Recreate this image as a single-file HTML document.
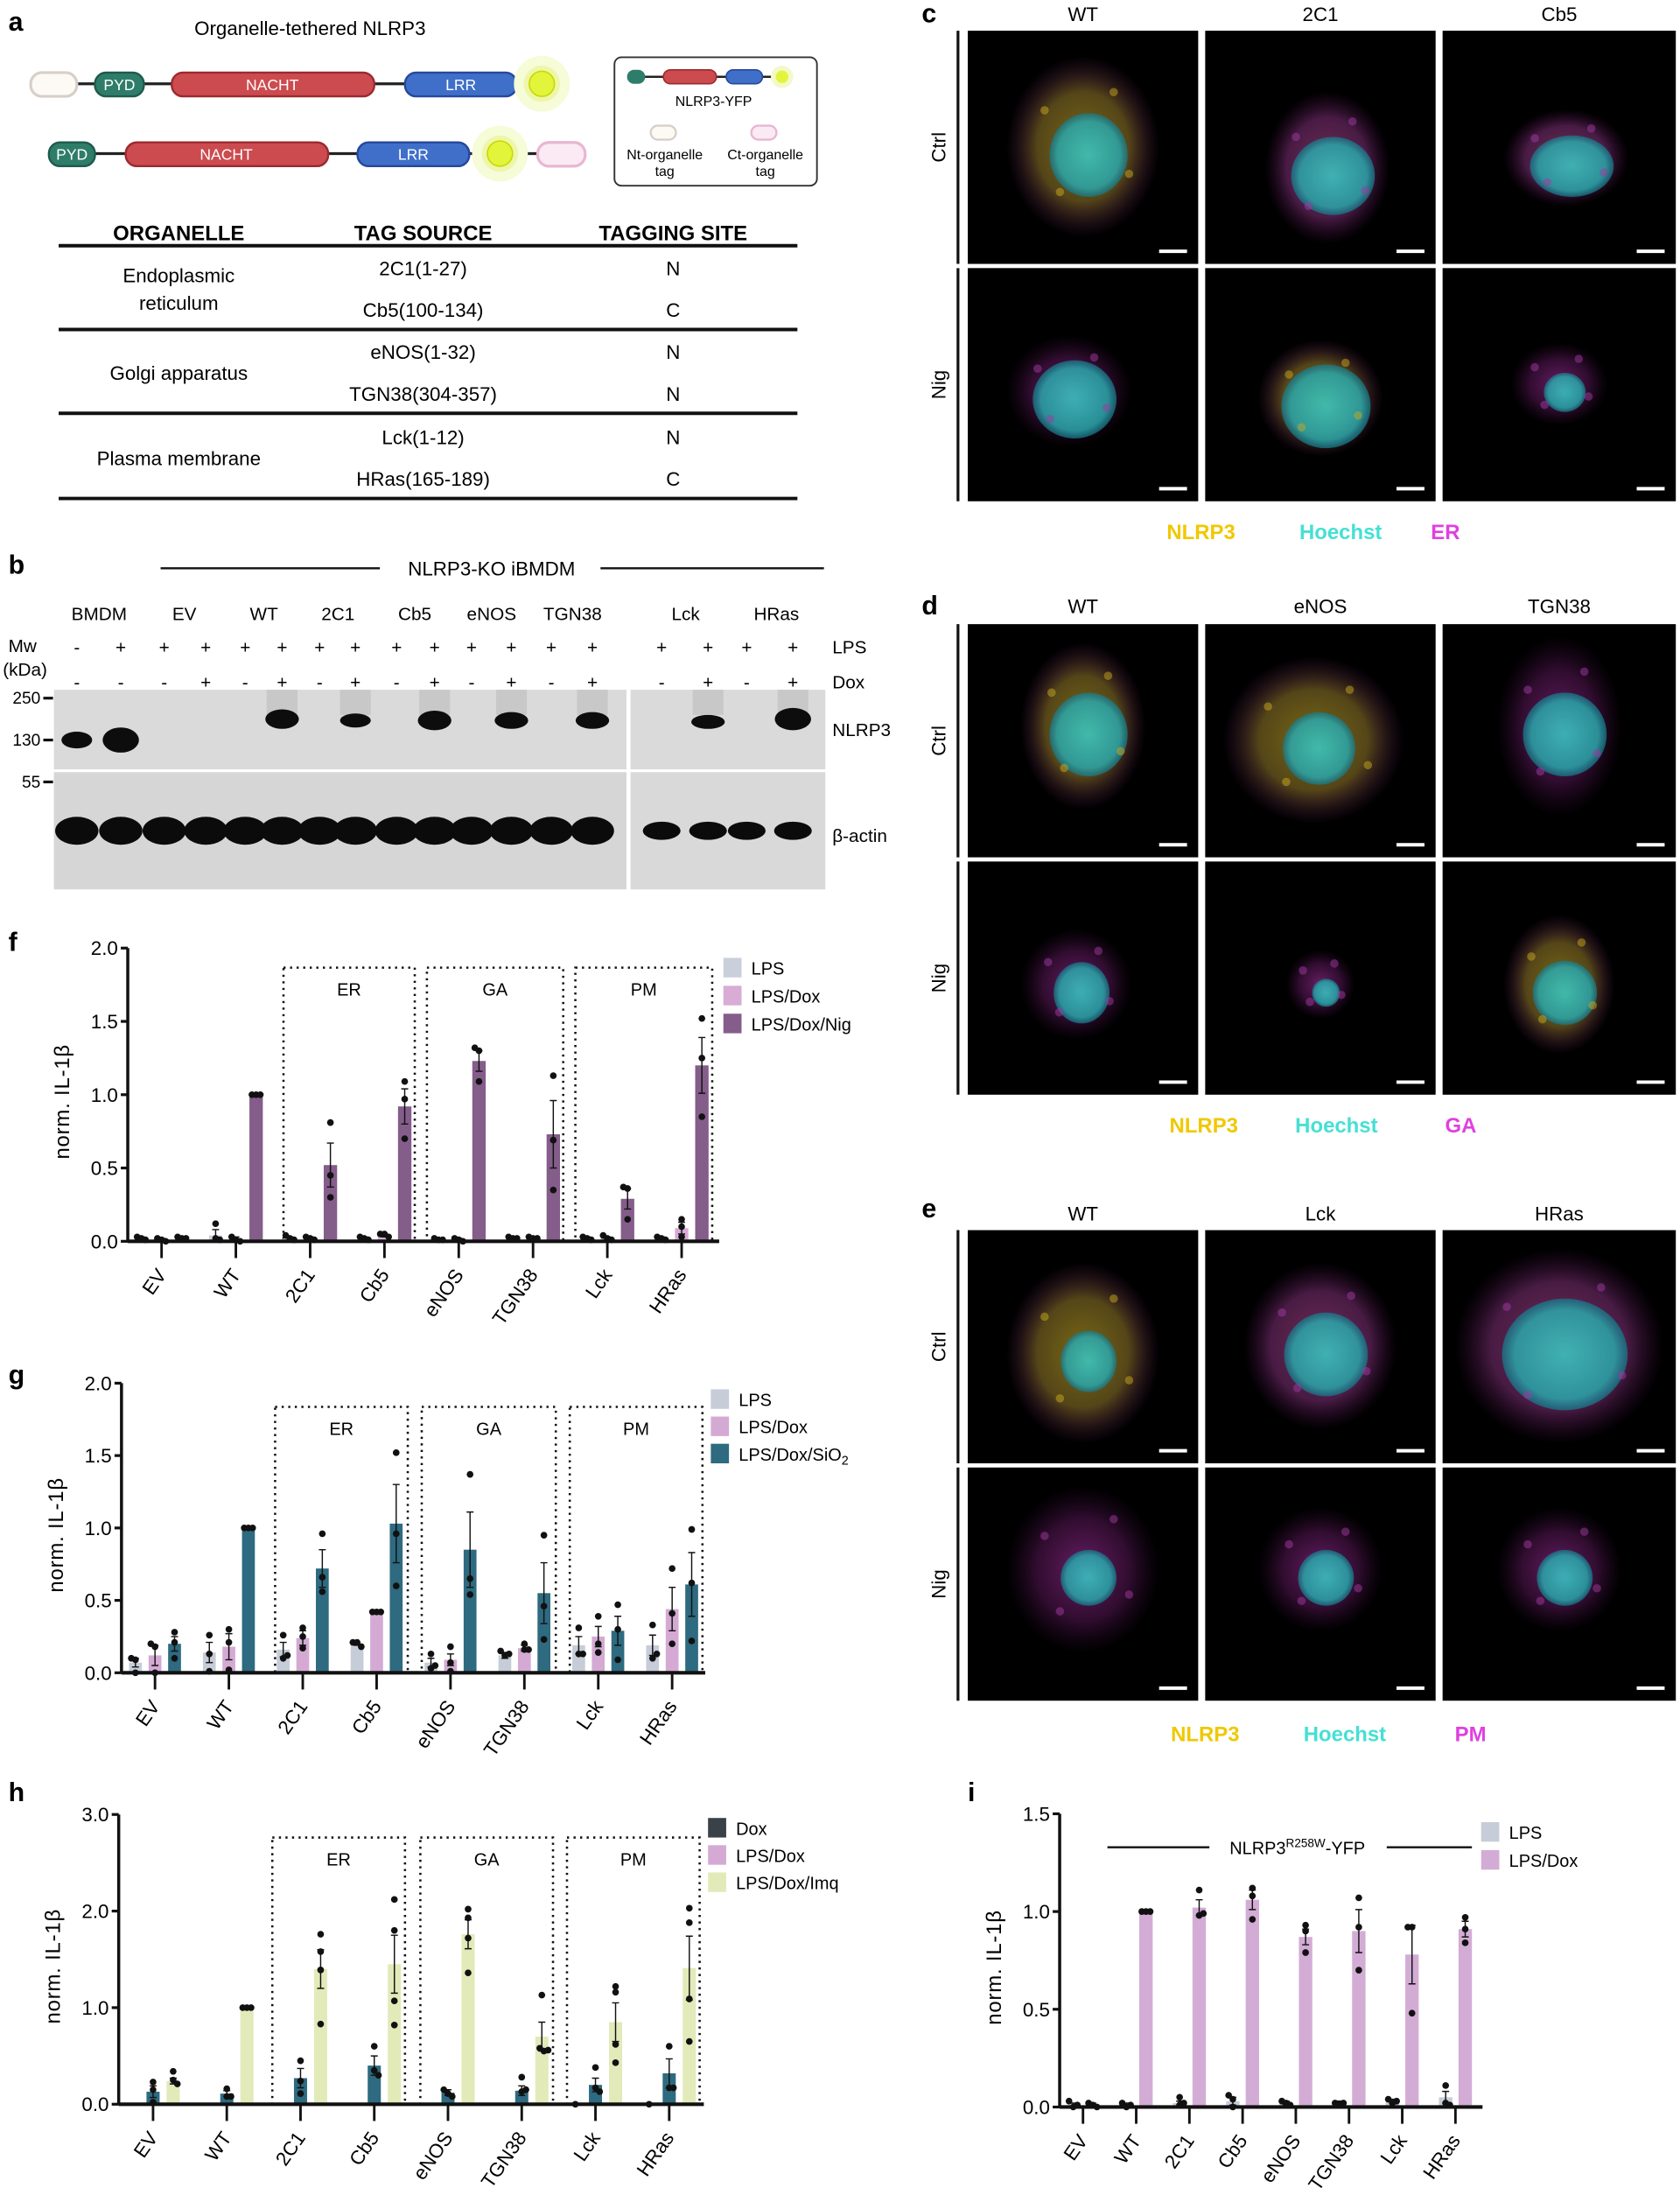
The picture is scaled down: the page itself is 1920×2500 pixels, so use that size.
<!DOCTYPE html>
<html><head><meta charset="utf-8"><style>
html,body{margin:0;padding:0;background:#fff;}
svg{display:block;font-family:"Liberation Sans",Arial,sans-serif;}
</style></head><body>
<svg id="fig" xmlns="http://www.w3.org/2000/svg" width="1920" height="2500" viewBox="0 0 1203 1567" preserveAspectRatio="none">
<defs>
<radialGradient id="gNuc"><stop offset="0" stop-color="#38c8c4"/><stop offset="0.8" stop-color="#2aa6aa"/><stop offset="1" stop-color="#17788a" stop-opacity="0.85"/></radialGradient>
<radialGradient id="gYel"><stop offset="0" stop-color="#c8b020" stop-opacity="0.85"/><stop offset="0.6" stop-color="#a88a30" stop-opacity="0.7"/><stop offset="1" stop-color="#802a78" stop-opacity="0"/></radialGradient>
<radialGradient id="gMag"><stop offset="0" stop-color="#b836b0" stop-opacity="0.8"/><stop offset="0.6" stop-color="#8a2488" stop-opacity="0.5"/><stop offset="1" stop-color="#5a165a" stop-opacity="0"/></radialGradient>
<radialGradient id="gPink"><stop offset="0" stop-color="#c85090" stop-opacity="0.8"/><stop offset="0.65" stop-color="#a8409e" stop-opacity="0.6"/><stop offset="1" stop-color="#701c70" stop-opacity="0"/></radialGradient>
</defs>

<g font-weight="bold" font-size="19">
<text x="6" y="22">a</text><text x="6" y="411">b</text><text x="6" y="681">f</text><text x="6" y="991">g</text><text x="6" y="1290">h</text><text x="693" y="1290">i</text>
<text x="660" y="16">c</text><text x="660" y="440">d</text><text x="660" y="872">e</text>
</g>

<g>
<text x="222" y="25" font-size="14" text-anchor="middle">Organelle-tethered NLRP3</text>
<g>
<line x1="55" y1="60" x2="385" y2="60" stroke="#222" stroke-width="2"/>
<rect x="22" y="52" width="33" height="17" rx="8" fill="#fdfaf5" stroke="#d8cfc8" stroke-width="2"/>
<rect x="68" y="52" width="35" height="17" rx="8" fill="#2e7d6b" stroke="#1f5a4c" stroke-width="1.5"/>
<text x="85.5" y="64.5" font-size="11" fill="#fff" text-anchor="middle">PYD</text>
<rect x="123" y="52" width="145" height="17" rx="8" fill="#cc4b4f" stroke="#9a2a30" stroke-width="1.5"/>
<text x="195" y="64.5" font-size="11" fill="#fff" text-anchor="middle">NACHT</text>
<rect x="290" y="52" width="80" height="17" rx="8" fill="#3f6fc9" stroke="#26489a" stroke-width="1.5"/>
<text x="330" y="64.5" font-size="11" fill="#fff" text-anchor="middle">LRR</text>
<circle cx="388" cy="60" r="20" fill="#f6fbd8"/><circle cx="388" cy="60" r="13" fill="#eef6a8"/><circle cx="388" cy="60" r="9" fill="#e2f53a" stroke="#c8d800"/>
</g>
<g>
<line x1="68" y1="110" x2="385" y2="110" stroke="#222" stroke-width="2"/>
<rect x="35" y="102" width="33" height="17" rx="8" fill="#2e7d6b" stroke="#1f5a4c" stroke-width="1.5"/>
<text x="51.5" y="114.5" font-size="11" fill="#fff" text-anchor="middle">PYD</text>
<rect x="90" y="102" width="145" height="17" rx="8" fill="#cc4b4f" stroke="#9a2a30" stroke-width="1.5"/>
<text x="162" y="114.5" font-size="11" fill="#fff" text-anchor="middle">NACHT</text>
<rect x="256" y="102" width="80" height="17" rx="8" fill="#3f6fc9" stroke="#26489a" stroke-width="1.5"/>
<text x="296" y="114.5" font-size="11" fill="#fff" text-anchor="middle">LRR</text>
<circle cx="358" cy="110" r="20" fill="#f6fbd8"/><circle cx="358" cy="110" r="13" fill="#eef6a8"/><circle cx="358" cy="110" r="9" fill="#e2f53a" stroke="#c8d800"/>
<rect x="385" y="102" width="34" height="17" rx="8" fill="#fbeaf3" stroke="#e8b6d3" stroke-width="2"/>
</g>
<g>
<rect x="440" y="41" width="145" height="92" rx="5" fill="#fff" stroke="#333" stroke-width="1.2"/>
<line x1="455" y1="55" x2="560" y2="55" stroke="#222" stroke-width="1.5"/>
<rect x="449" y="50" width="13" height="10" rx="5" fill="#2e7d6b"/>
<rect x="475" y="50" width="38" height="10" rx="5" fill="#cc4b4f" stroke="#9a2a30"/>
<rect x="520" y="50" width="26" height="10" rx="5" fill="#3f6fc9" stroke="#26489a"/>
<circle cx="560" cy="55" r="8" fill="#f3f9c8"/><circle cx="560" cy="55" r="4.5" fill="#e2f53a"/>
<text x="511" y="76" font-size="10" text-anchor="middle">NLRP3-YFP</text>
<rect x="466" y="90" width="18" height="10" rx="5" fill="#fdfaf5" stroke="#d8cfc8" stroke-width="1.5"/>
<rect x="538" y="90" width="18" height="10" rx="5" fill="#fbeaf3" stroke="#e8b6d3" stroke-width="1.5"/>
<text x="476" y="114" font-size="10" text-anchor="middle">Nt-organelle</text><text x="476" y="126" font-size="10" text-anchor="middle">tag</text>
<text x="548" y="114" font-size="10" text-anchor="middle">Ct-organelle</text><text x="548" y="126" font-size="10" text-anchor="middle">tag</text>
</g>
</g>
<g font-size="14" text-anchor="middle">
<text x="128" y="172" font-weight="bold" font-size="15">ORGANELLE</text>
<text x="303" y="172" font-weight="bold" font-size="15">TAG SOURCE</text>
<text x="482" y="172" font-weight="bold" font-size="15">TAGGING SITE</text>
<line x1="42" y1="176" x2="571" y2="176" stroke="#111" stroke-width="2.5"/>
<line x1="42" y1="236" x2="571" y2="236" stroke="#111" stroke-width="2.5"/>
<line x1="42" y1="296" x2="571" y2="296" stroke="#111" stroke-width="2.5"/>
<line x1="42" y1="357" x2="571" y2="357" stroke="#111" stroke-width="2.5"/>
<text x="128" y="202">Endoplasmic</text><text x="128" y="222">reticulum</text>
<text x="128" y="272">Golgi apparatus</text><text x="128" y="333">Plasma membrane</text>
<text x="303" y="197">2C1(1-27)</text><text x="303" y="227">Cb5(100-134)</text>
<text x="303" y="257">eNOS(1-32)</text><text x="303" y="287">TGN38(304-357)</text>
<text x="303" y="318">Lck(1-12)</text><text x="303" y="348">HRas(165-189)</text>
<text x="482" y="197">N</text><text x="482" y="227">C</text><text x="482" y="257">N</text><text x="482" y="287">N</text><text x="482" y="318">N</text><text x="482" y="348">C</text>
</g>

<g font-size="13">
<line x1="115" y1="407" x2="272" y2="407" stroke="#111" stroke-width="1.5"/>
<line x1="430" y1="407" x2="590" y2="407" stroke="#111" stroke-width="1.5"/>
<text x="352" y="412" text-anchor="middle" font-size="14">NLRP3-KO iBMDM</text>
<g id="laneLabels" text-anchor="middle"></g>
<text x="6" y="467">Mw</text><text x="2" y="484">(kDa)</text>
<text x="596" y="468">LPS</text><text x="596" y="493">Dox</text>
<g id="signs" text-anchor="middle"></g>
<rect x="38.6" y="494" width="410" height="57" fill="#dadada"/>
<rect x="451.5" y="494" width="139.5" height="57" fill="#dadada"/>
<rect x="38.6" y="553" width="410" height="84" fill="#d6d6d6"/>
<rect x="451.5" y="553" width="139.5" height="84" fill="#d9d9d9"/>
<g id="bands"></g>
<g font-size="12" text-anchor="end"><text x="29" y="504">250</text><text x="29" y="534">130</text><text x="29" y="564">55</text></g>
<line x1="31" y1="500" x2="38" y2="500" stroke="#111" stroke-width="2"/>
<line x1="31" y1="530" x2="38" y2="530" stroke="#111" stroke-width="2"/>
<line x1="31" y1="560" x2="38" y2="560" stroke="#111" stroke-width="2"/>
<text x="596" y="527">NLRP3</text><text x="596" y="603">β-actin</text>
</g>

<g id="micro"></g>

<g id="chartF"></g>
<g id="chartG"></g>
<g id="chartH"></g>
<g id="chartI"></g>
</svg>

<script>
const categories = ['EV','WT','2C1','Cb5','eNOS','TGN38','Lck','HRas'];
const boxLabels = ['ER','GA','PM'];

const fLegend = ['LPS','LPS/Dox','LPS/Dox/Nig'];
const fTicks = ['0.0','0.5','1.0','1.5','2.0'];
const fLPS = [0.02,0.04,0.02,0.02,0.01,0.02,0.02,0.02];
const fLPSDox = [0.01,0.02,0.02,0.04,0.01,0.02,0.02,0.09];
const fNig = [0.02,1.0,0.52,0.92,1.23,0.73,0.29,1.2];
const fErrLPS = [0.01,0.04,0.01,0.01,0,0.01,0.01,0.01];
const fErrLPSDox = [0.01,0.01,0.01,0.01,0.01,0.01,0.01,0.04];
const fErrNig = [0.01,0,0.15,0.12,0.07,0.23,0.07,0.19];
const fPtsLPS = [[0.03,0.02,0.01],[0.12,0.02,0.01],[0.04,0.02,0.01],[0.03,0.02,0.01],[0.02,0.01,0.01],[0.03,0.02,0.02],[0.03,0.02,0.01],[0.03,0.02,0.01]];
const fPtsLPSDox = [[0.02,0.01,0],[0.03,0.01,0],[0.03,0.02,0.01],[0.05,0.05,0.03],[0.02,0.01,0],[0.03,0.02,0.02],[0.04,0.02,0.01],[0.15,0.1,0.03]];
const fPtsNig = [[0.03,0.02,0.02],[1,1,1],[0.81,0.45,0.3],[1.09,0.97,0.7],[1.32,1.3,1.09],[1.13,0.69,0.35],[0.37,0.36,0.15],[1.52,1.25,0.85]];

const gLegend = ['LPS','LPS/Dox','LPS/Dox/SiO2'];
const gTicks = ['0.0','0.5','1.0','1.5','2.0'];
const gLPS = [0.07,0.14,0.16,0.2,0.07,0.12,0.19,0.19];
const gLPSDox = [0.12,0.18,0.24,0.42,0.09,0.17,0.25,0.44];
const gSiO2 = [0.2,1.0,0.72,1.03,0.85,0.55,0.29,0.61];
const gErrLPS = [0.03,0.07,0.05,0.01,0.03,0.02,0.06,0.07];
const gErrLPSDox = [0.07,0.09,0.05,0,0.04,0.02,0.07,0.15];
const gErrSiO2 = [0.05,0,0.13,0.27,0.26,0.21,0.1,0.22];
const gPtsLPS = [[0.1,0.09,0],[0.26,0.13,0.01],[0.26,0.1,0.12],[0.21,0.21,0.18],[0.13,0.03,0.05],[0.15,0.12,0.13],[0.31,0.13,0.13],[0.33,0.1,0.13]];
const gPtsLPSDox = [[0.2,0.18,0],[0.3,0.21,0.02],[0.31,0.25,0.17],[0.42,0.42,0.42],[0.18,0.07,0.01],[0.2,0.16,0.16],[0.39,0.2,0.14],[0.72,0.41,0.2]];
const gPtsSiO2 = [[0.28,0.21,0.1],[1,1,1],[0.96,0.66,0.56],[1.52,0.96,0.6],[1.37,0.65,0.54],[0.95,0.46,0.23],[0.47,0.3,0.09],[0.99,0.62,0.22]];

const hLegend = ['Dox','LPS/Dox','LPS/Dox/Imq'];
const hTicks = ['0.0','1.0','2.0','3.0'];
const hDox = [0,0,0,0,0,0,0,0];
const hLPSDox = [0.13,0.11,0.27,0.4,0.12,0.14,0.2,0.32];
const hImq = [0.24,1.0,1.4,1.45,1.76,0.7,0.85,1.41];
const hErrDox = [0,0,0,0,0,0,0,0];
const hErrLPSDox = [0.06,0.03,0.1,0.1,0.03,0.05,0.07,0.15];
const hErrImq = [0.03,0,0.2,0.3,0.15,0.15,0.2,0.33];
const hPtsDox = [[],[],[],[],[],[],[0],[0]];
const hPtsLPSDox = [[0.23,0.15,0.02],[0.16,0.08,0.08],[0.45,0.24,0.11],[0.6,0.35,0.3],[0.15,0.11,0.08],[0.28,0.13,0.15],[0.38,0.17,0.13],[0.6,0.17,0.17]];
const hPtsImq = [[0.34,0.25,0.21],[1,1,1],[1.76,1.58,1.39,0.83],[2.12,1.8,1.07,0.82],[2.02,1.93,1.72,1.36],[1.13,0.58,0.55,0.56],[1.22,1.16,0.62,0.43],[2.03,1.88,1.09,0.65]];

const iLegend = ['LPS','LPS/Dox'];
const iTicks = ['0.0','0.5','1.0','1.5'];
const iLPS = [0.01,0.01,0.02,0.03,0.02,0.02,0.03,0.05];
const iLPSDox = [0.01,1.0,1.02,1.06,0.87,0.9,0.78,0.91];
const iErrLPS = [0.01,0.01,0.01,0.02,0.01,0.01,0.01,0.03];
const iErrLPSDox = [0.01,0,0.04,0.05,0.04,0.11,0.15,0.04];
const iPtsLPS = [[0.03,0,0.01],[0.02,0,0.01],[0.05,0.01,0.02],[0.06,0.04,0],[0.03,0.02,0.01],[0.02,0.01,0.02],[0.04,0.02,0.03],[0.11,0.02,0.01]];
const iPtsLPSDox = [[0.02,0.01,0],[1,1,1],[1.11,0.98,0.99],[1.12,1.08,0.96],[0.93,0.9,0.79],[1.07,0.92,0.7],[0.92,0.92,0.48],[0.97,0.91,0.84]];

const NS = 'http://www.w3.org/2000/svg';
function mk(tag, attrs, parent){
  const el = document.createElementNS(NS, tag);
  for (const k in attrs) el.setAttribute(k, attrs[k]);
  if (parent) parent.appendChild(el);
  return el;
}

function drawChart(root, cfg){
  const yTop = cfg.yTop, y0 = cfg.y0, ymax = cfg.ymax;
  const yScale = v => y0 - v / ymax * (y0 - yTop);
  const xScale = i => cfg.x0 + cfg.step * i;
  if (cfg.boxes){
    cfg.boxes.forEach((b, k) => {
      const r = mk('rect', {x:b[0], y:cfg.boxTop, width:b[1]-b[0], height:y0-cfg.boxTop, fill:'none', stroke:'#111', 'stroke-width':1.6, 'stroke-dasharray':'1.5 3.2'}, root);
      
      
      const t = mk('text', {x:(b[0]+b[1])/2, y:cfg.boxTop+20, 'font-size':12.5, 'text-anchor':'middle'}, root);
      t.textContent = boxLabels[k];
      
      
    });
  }
  cfg.series.forEach((s, si) => {
    const g = mk('g', {}, root);
    
    
    s.values.forEach((v, i) => {
      const cx = xScale(i) + s.offset;
      const bar = mk('rect', {x:cx - cfg.bw/2, y:yScale(v), width:cfg.bw, height:Math.max(0, y0 - yScale(v)), fill:s.color}, g);
      
      
      const e = s.err[i];
      if (e > 0){
        const ey1 = yScale(v + e), ey2 = yScale(Math.max(0, v - e));
        const eb = mk('path', {d:`M${cx},${ey1}V${ey2}M${cx-2.5},${ey1}H${cx+2.5}M${cx-2.5},${ey2}H${cx+2.5}`, stroke:'#111', 'stroke-width':0.9, fill:'none'}, g);
        
        
      }
      const pts = s.pts[i];
      pts.forEach((p, pi) => {
        const n = pts.length;
        let dx = 0;
        if (n > 1){
          const same = pts.filter(q => Math.abs(q - p) < ymax * 0.02).length;
          if (same > 1) dx = (pi - (n - 1) / 2) * 3;
        }
        const c = mk('circle', {cx:cx + dx, cy:yScale(p), r:2.4, fill:'#111'}, g);
        
        
      });
    });
  });
  const ax = mk('path', {d:`M${cfg.axisX},${yTop}V${y0}`, stroke:'#111', 'stroke-width':2.2, fill:'none'}, root);
  
  
  const xa = mk('path', {d:`M${cfg.axisX},${y0}H${cfg.axisEnd}`, stroke:'#111', 'stroke-width':2.6, fill:'none'}, root);
  
  
  cfg.ticks.forEach((lab, k) => {
    const v = ymax * k / (cfg.ticks.length - 1);
    const y = yScale(v);
    const tk = mk('line', {x1:cfg.axisX - 5, x2:cfg.axisX, y1:y, y2:y, stroke:'#111', 'stroke-width':2}, root);
    
    
    const t = mk('text', {x:cfg.axisX - 7, y:y + 5, 'font-size':14, 'text-anchor':'end'}, root);
    t.textContent = lab;
    
    
  });
  categories.forEach((c, i) => {
    const x = xScale(i);
    const tk = mk('line', {x1:x, x2:x, y1:y0, y2:y0 + 12, stroke:'#111', 'stroke-width':1.8}, root);
    
    
    const t = mk('text', {x:x + 4, y:y0 + 24, 'font-size':14, 'text-anchor':'end', transform:`rotate(-55 ${x + 4} ${y0 + 24})`}, root);
    t.textContent = c;
    
    
  });
  const yl = mk('text', {x:0, y:0, 'font-size':15, 'text-anchor':'middle', transform:`translate(${cfg.axisX - 42},${(yTop + y0) / 2 + 5}) rotate(-90)`, 'letter-spacing':'0.5'}, root);
  yl.textContent = 'norm. IL-1β';
  
  
  cfg.legend.forEach((name, k) => {
    const ly = cfg.legY + k * cfg.legGap;
    const sw = mk('rect', {x:cfg.legX, y:ly, width:13, height:14, fill:cfg.legColors[k]}, root);
    
    
    const t = mk('text', {x:cfg.legX + 20, y:ly + 12, 'font-size':12.5}, root);
    if (name === 'LPS/Dox/SiO2'){
      t.textContent = 'LPS/Dox/SiO';
      const sub = mk('tspan', {'font-size':9, dy:3}, t);
      sub.textContent = '2';
    } else t.textContent = name;
    
    
  });
}

drawChart(document.getElementById('chartF'), {
  yTop:679, y0:889, ymax:2, x0:115.7, step:53.2, bw:9.6, axisX:91.5, axisEnd:515, ticks:fTicks,
  boxes:[[203,297],[305.7,403.3],[412,510]], boxTop:693,
  legend:fLegend, legColors:['#c9d0dc','#d8acd5','#845d8a'], legX:518, legY:686, legGap:20,
  series:[
    {name:'LPS', values:fLPS, err:fErrLPS, pts:fPtsLPS, color:'#c9d0dc', offset:-14.5},
    {name:'LPS-Dox', values:fLPSDox, err:fErrLPSDox, pts:fPtsLPSDox, color:'#d8acd5', offset:0},
    {name:'LPS-Dox-Nig', values:fNig, err:fErrNig, pts:fPtsNig, color:'#845d8a', offset:14.5}
  ]
});
drawChart(document.getElementById('chartG'), {
  yTop:990.6, y0:1198, ymax:2, x0:111, step:52.9, bw:9.2, axisX:87, axisEnd:505, ticks:gTicks,
  boxes:[[197,292],[302,398],[408,503]], boxTop:1007.6,
  legend:gLegend, legColors:['#c6ccd8','#d4aad4','#2e6a80'], legX:509, legY:995, legGap:19.5,
  series:[
    {name:'LPS', values:gLPS, err:gErrLPS, pts:gPtsLPS, color:'#c6ccd8', offset:-14},
    {name:'LPS-Dox', values:gLPSDox, err:gErrLPSDox, pts:gPtsLPSDox, color:'#d4aad4', offset:0},
    {name:'LPS-Dox-SiO2', values:gSiO2, err:gErrSiO2, pts:gPtsSiO2, color:'#2e6a80', offset:14}
  ]
});
drawChart(document.getElementById('chartH'), {
  yTop:1299.5, y0:1507, ymax:3, x0:109.6, step:52.8, bw:9.4, axisX:85, axisEnd:504, ticks:hTicks,
  boxes:[[195,290],[301,396],[406,501]], boxTop:1316,
  legend:hLegend, legColors:['#384248','#d4aad4','#e2eab9'], legX:507, legY:1302, legGap:19.5,
  series:[
    {name:'Dox', values:hDox, err:hErrDox, pts:hPtsDox, color:'#384248', offset:-14.4},
    {name:'LPS-Dox', values:hLPSDox, err:hErrLPSDox, pts:hPtsLPSDox, color:'#2e6a80', offset:0},
    {name:'LPS-Dox-Imq', values:hImq, err:hErrImq, pts:hPtsImq, color:'#e2eab9', offset:14.4}
  ]
});
drawChart(document.getElementById('chartI'), {
  yTop:1299, y0:1509, ymax:1.5, x0:775.5, step:38.1, bw:9.6, axisX:758.8, axisEnd:1061.6, ticks:iTicks,
  boxes:null,
  legend:iLegend, legColors:['#c6ccd8','#d3acd5'], legX:1060.6, legY:1305, legGap:20,
  series:[
    {name:'LPS', values:iLPS, err:iErrLPS, pts:iPtsLPS, color:'#c6ccd8', offset:-7},
    {name:'LPS-Dox', values:iLPSDox, err:iErrLPSDox, pts:iPtsLPSDox, color:'#d3acd5', offset:7}
  ]
});
(function(){
  const root = document.getElementById('chartI');
  const l1 = mk('line', {x1:793, x2:866, y1:1323, y2:1323, stroke:'#111', 'stroke-width':1.5}, root);
  
  
  const l2 = mk('line', {x1:993, x2:1054, y1:1323, y2:1323, stroke:'#111', 'stroke-width':1.5}, root);
  
  
  const t = mk('text', {x:929, y:1328, 'font-size':12.5, 'text-anchor':'middle'}, root);
  t.textContent = 'NLRP3';
  const s = mk('tspan', {'font-size':8.5, dy:-5}, t); s.textContent = 'R258W';
  const s2 = mk('tspan', {dy:5}, t); s2.textContent = '-YFP';
  
  
})();

(function(){
  const laneNames = [['BMDM',71],['EV',132],['WT',189],['2C1',242],['Cb5',297],['eNOS',352],['TGN38',410],['Lck',491],['HRas',556]];
  const ll = document.getElementById('laneLabels');
  laneNames.forEach(l => {
    const t = mk('text', {x:l[1], y:444}, ll); t.textContent = l[0];
    
    
  });
  const xs = [55,86.5,117.6,147.4,175.6,202,228.9,254.5,284,311.2,337.7,366.2,394.8,424.2,473.8,507,534.7,567.8];
  const lps = '-+++++++++++++++++';
  const dox = '---+-+-+-+-+-+-+-+';
  const sg = document.getElementById('signs');
  xs.forEach((x, i) => {
    const a = mk('text', {x:x, y:468}, sg); a.textContent = lps[i];
    const b = mk('text', {x:x, y:493}, sg); b.textContent = dox[i];
  });
  const bd = document.getElementById('bands');
  const nl = [[55,530,22,6],[86.5,530,26,9],[202,515,24,7],[254.5,516,22,5],[311.2,516,24,7],[366.2,516,24,6],[424.2,516,24,6],[507,517,24,5],[567.8,515,26,8]];
  nl.forEach((b, k) => {
    if (k > 1){
      const sm = mk('rect', {x:b[0]-11, y:494, width:22, height:18, fill:'#bdbdbd', opacity:0.6}, bd);
      
      
    }
    const e = mk('ellipse', {cx:b[0], cy:b[1], rx:b[2]/2, ry:b[3], fill:'#0d0d0d'}, bd);
    
    
  });
  xs.forEach((x, i) => {
    const e = mk('ellipse', {cx:x, cy:595, rx:i < 14 ? 15.5 : 13.5, ry:i < 14 ? 10 : 6.5, fill:'#0b0b0b'}, bd);
    
    
  });
})();

(function(){
  const root = document.getElementById('micro');
  const cols = [[693,858],[863,1028],[1033,1200]];
  const panels = [
    {top:22, headers:['WT','2C1','Cb5'], hy:15, legY:386, legend:[['NLRP3','#f0c800',860],['Hoechst','#45e0d4',960],['ER','#e040e0',1035]]},
    {top:447, headers:['WT','eNOS','TGN38'], hy:439, legY:811, legend:[['NLRP3','#f0c800',862],['Hoechst','#45e0d4',957],['GA','#e040e0',1046]]},
    {top:881, headers:['WT','Lck','HRas'], hy:874, legY:1247, legend:[['NLRP3','#f0c800',863],['Hoechst','#45e0d4',963],['PM','#e040e0',1053]]}
  ];
  const cells = [
    [['gYel',55,65,28,30,0,0],['gPink',45,55,30,28,5,15],['gPink',45,35,30,22,5,8]],
    [['gMag',45,40,30,28,-10,5],['gYel',45,42,32,30,0,10],['gMag',35,30,15,14,0,0]],
    [['gYel',45,60,28,30,0,-10],['gYel',65,60,26,26,-5,0],['gMag',45,65,30,30,0,-10]],
    [['gMag',40,40,20,22,-5,5],['gMag',25,25,10,10,0,5],['gYel',40,50,23,23,0,5]],
    [['gYel',55,65,20,22,0,5],['gPink',55,60,30,30,0,0],['gPink',75,70,45,40,0,0]],
    [['gMag',55,60,20,20,0,-10],['gMag',45,45,20,20,0,-10],['gMag',45,45,20,20,0,-10]]
  ];
  panels.forEach((p, pi) => {
    p.headers.forEach((h, ci) => {
      const t = mk('text', {x:(cols[ci][0]+cols[ci][1])/2, y:p.hy, 'font-size':14, 'text-anchor':'middle'}, root);
      t.textContent = h;
      
      
    });
    [0,1].forEach(ri => {
      const y1 = p.top + ri * 170, y2 = y1 + 167;
      const bar = mk('line', {x1:686, x2:686, y1:y1, y2:y2, stroke:'#111', 'stroke-width':2}, root);
      
      
      const lab = ri === 0 ? 'Ctrl' : 'Nig';
      const rt = mk('text', {x:0, y:0, 'font-size':14, 'text-anchor':'middle', transform:`translate(677,${(y1+y2)/2}) rotate(-90)`}, root);
      rt.textContent = lab;
      
      
      cols.forEach((c, ci) => {
        const g = mk('g', {}, root);
        
        
        mk('rect', {x:c[0], y:y1, width:c[1]-c[0], height:167, fill:'#000'}, g);
        const spec = cells[pi*2 + ri][ci];
        const cx = (c[0]+c[1])/2 + spec[5], cy = y1 + 83 + spec[6];
        mk('ellipse', {cx:cx, cy:cy, rx:spec[1], ry:spec[2], fill:'url(#' + spec[0] + ')', opacity:0.72}, g);
        mk('ellipse', {cx:cx + 4, cy:cy + 6, rx:spec[3], ry:spec[4], fill:'url(#gNuc)', opacity:0.85}, g);
        [[-0.5,-0.4],[0.4,-0.6],[0.6,0.3],[-0.3,0.5]].forEach(o => {
          mk('circle', {cx:cx + o[0]*spec[1], cy:cy + o[1]*spec[2], r:3, fill:spec[0]==='gYel' ? '#c8a820' : '#a03aa0', opacity:0.5}, g);
        });
        mk('line', {x1:c[1]-28, x2:c[1]-8, y1:y2-9, y2:y2-9, stroke:'#fff', 'stroke-width':2.5}, g);
      });
    });
    p.legend.forEach(l => {
      const t = mk('text', {x:l[2], y:p.legY, 'font-size':15, 'text-anchor':'middle', fill:l[1], 'font-weight':'bold'}, root);
      t.textContent = l[0];
      
      
    });
  });
})();
</script>
</body></html>
